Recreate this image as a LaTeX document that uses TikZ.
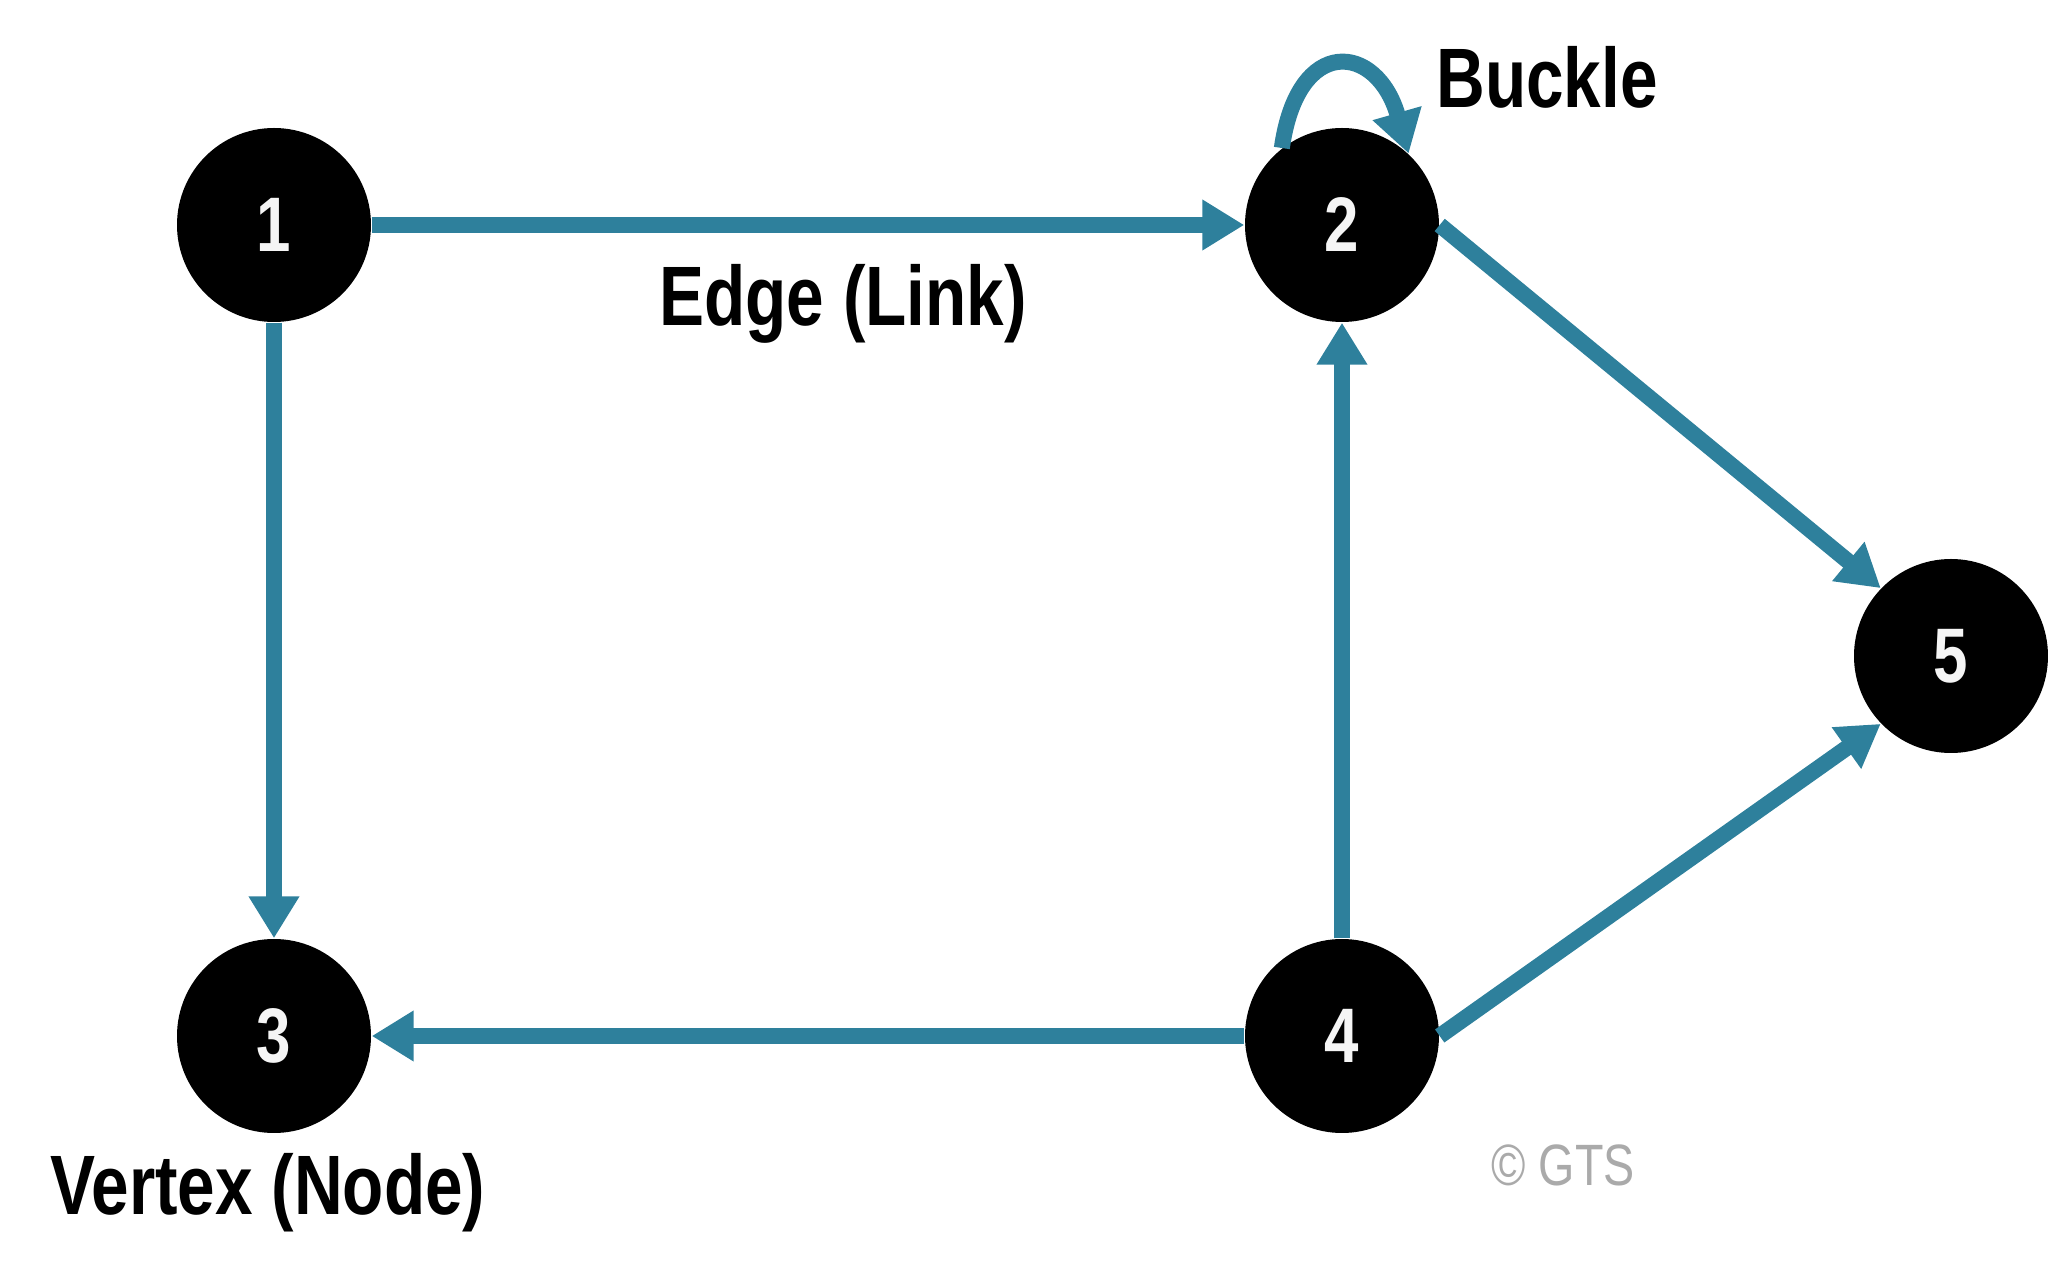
\documentclass[tikz,border=0pt]{standalone}
\usepackage{fontspec}
\setmainfont{Liberation Sans}[FakeStretch=0.8]
\usepackage{tikz}
\usetikzlibrary{arrows.meta}
\definecolor{linkblue}{RGB}{46,128,156}
\definecolor{markgray}{RGB}{170,170,170}

\begin{document}
\begin{tikzpicture}[
  vertex/.style={circle,fill=black,minimum size=1.94cm,inner sep=0pt,text=white!96!black,font=\fontsize{22}{24}\selectfont\bfseries},
  link/.style={draw=linkblue,line width=0.16cm,-{Triangle[length=0.42cm,width=0.48cm]}},
  lbl/.style={anchor=base west,font=\fontsize{24}{28}\selectfont\bfseries}]
\useasboundingbox (0,0) rectangle (20.48,12.84);
\node[vertex] (v1) at (2.74,10.59){1};
\node[vertex] (v2) at (13.42,10.59){2};
\node[vertex] (v3) at (2.74,2.48){3};
\node[vertex] (v4) at (13.42,2.48){4};
\node[vertex] (v5) at (19.51,6.28){5};
\foreach \from/\to in {v1/v2,v1/v3,v4/v3,v4/v2,v2.east/v5.136,v4.east/v5.224}
  \draw[link] (\from) -- (\to);
\draw[link] (v2.128) .. controls +(82:1.15) and +(106:1.15) .. (v2.47);
\node[lbl] (edgelbl) at (6.47,9.58){Edge (Link)};
\node[lbl] (looplbl) at (14.24,11.76){Buckle};
\node[lbl] (vertexlbl) at (0.38,0.69){Vertex (Node)};
\node[anchor=base west,text=markgray,font=\fontsize{16.6}{20}\selectfont] (mark) at (14.79,0.98){© GTS};
\end{tikzpicture}
\end{document}
